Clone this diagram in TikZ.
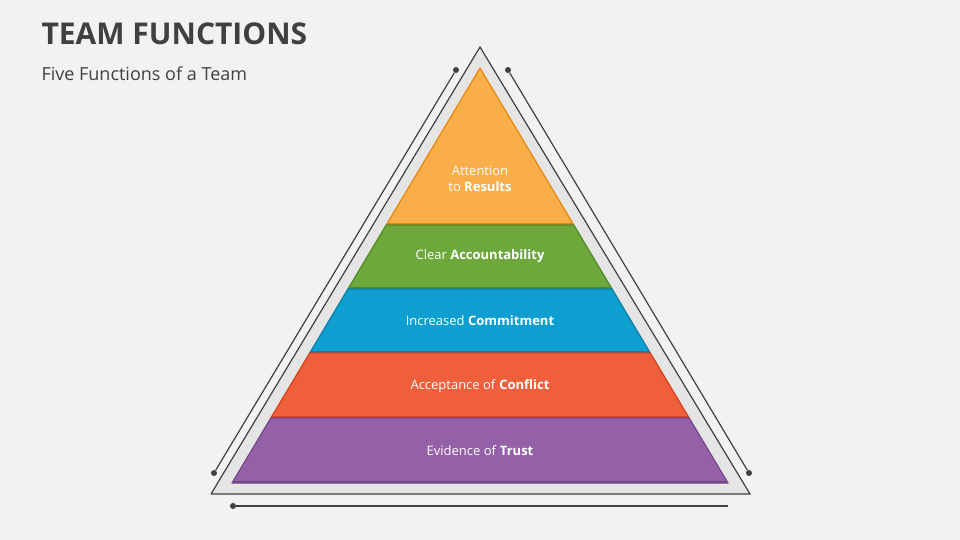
\documentclass[tikz,border=0pt]{standalone}
\usepackage{fontspec}
\setmainfont{Open Sans}
\begin{document}
\begin{tikzpicture}[x=1pt,y=-1pt,
  lbl/.style={text=white,font=\fontsize{13}{16}\selectfont,align=center},
  gline/.style={draw=black!75,line width=1.2pt},
  dotc/.style={circle,fill=black!75,inner sep=0pt,minimum size=6pt}]
\fill[black!5] (0,0) rectangle (960,540);
\useasboundingbox (0,0) rectangle (960,540);
\node[anchor=west,text=black!75,font=\fontsize{30}{34}\selectfont\bfseries] (title) at (38,34) {TEAM FUNCTIONS};
\node[anchor=west,text=black!75,font=\fontsize{18}{22}\selectfont] (sub) at (38,74) {Five Functions of a Team};
\fill[black!10] (480,47) -- (750,494) -- (211,494) -- cycle;
\draw[gline] (211,494) -- (480,47) -- (750,494) -- (211,494);
\node[dotc] (d1) at (456,70) {};
\node[dotc] (d2) at (214,473) {};
\node[dotc] (d3) at (508,70) {};
\node[dotc] (d4) at (749,473) {};
\node[dotc] (d5) at (233,506) {};
\coordinate (d6) at (728,506);
\draw[gline] (d1) -- (d2);
\draw[gline] (d3) -- (d4);
\draw[gline] (d5) -- (d6);
% layers
\foreach \ya/\yb/\fc/\ec in {68/225/F9AE4A/E8890C, 225/289/6EA83C/4F8A26, 289/353/0E9FD0/0A7FAA, 353/418/F05F3C/D8401C, 418/483/9460A8/76468A}{
  \definecolor{fc}{HTML}{\fc}\definecolor{ec}{HTML}{\ec}
  \pgfmathsetmacro\ha{(\ya-68)*0.59759}
  \pgfmathsetmacro\hb{(\yb-68)*0.59759}
  \fill[fc,draw=ec,line width=1.2pt,line join=round] (480-\ha,\ya) -- (480+\ha,\ya) -- (480+\hb,\yb) -- (480-\hb,\yb) -- cycle;
  \draw[ec,line width=2.5pt] (480-\hb+1,\yb-1) -- (480+\hb-1,\yb-1);
}
\node[lbl] (l1) at (480,179) {Attention\\to \textbf{Results}};
\node[lbl] (l2) at (480,256) {Clear \textbf{Accountability}};
\node[lbl] (l3) at (480,321) {Increased \textbf{Commitment}};
\node[lbl] (l4) at (480,386) {Acceptance of \textbf{Conflict}};
\node[lbl] (l5) at (480,451) {Evidence of \textbf{Trust}};
\end{tikzpicture}
\end{document}
